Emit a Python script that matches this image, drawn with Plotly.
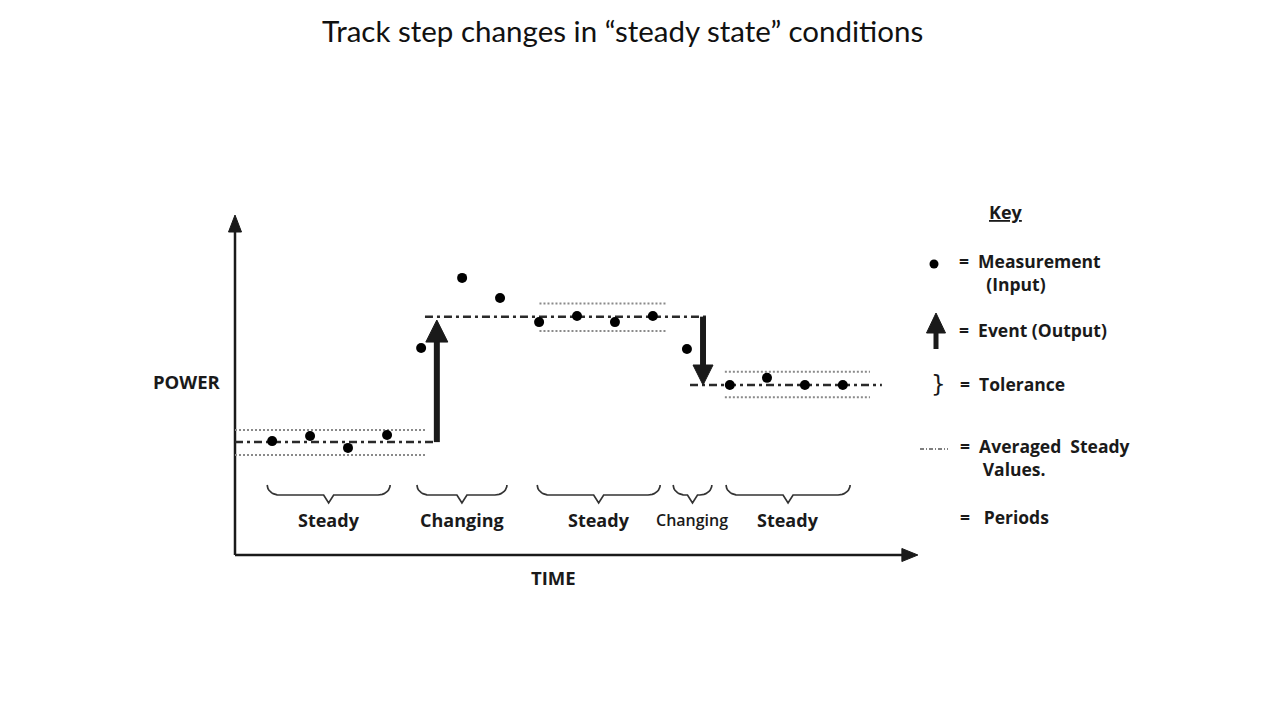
import numpy as np
import plotly.graph_objects as go

# ---------------- data ----------------
title_text = "Track step changes in “steady state” conditions"

meas_time = [0.97, 1.96, 2.95, 3.97, 4.86, 5.93, 6.92, 7.94, 8.93, 9.92, 10.91, 11.80, 12.92, 13.89, 14.88, 15.87]
meas_power = [3.35, 3.50, 3.15, 3.53, 6.09, 8.15, 7.56, 6.85, 7.03, 6.85, 7.03, 6.06, 5.00, 5.21, 5.00, 5.00]

avg_level = [3.32, 7.01, 5.00]
avg_start = [0.00, 4.96, 11.88]
avg_end = [5.27, 12.32, 16.89]

tol_upper = [3.68, 7.40, 5.39]
tol_lower = [2.94, 6.59, 4.64]
tol_start = [0.00, 7.95, 12.79]
tol_end = [5.01, 11.28, 16.58]

event_time = [5.27, 12.22]
event_from = [3.32, 7.01]
event_to = [6.91, 5.00]

period_start = [0.84, 4.75, 7.89, 11.44, 12.82]
period_end = [4.05, 7.10, 11.10, 12.45, 16.06]
period_label = ["Steady", "Changing", "Steady", "Changing", "Steady"]

time_max = 17.83
power_max = 10.0

NB = "&nbsp;"
key_labels = ["=  Measurement<br>" + NB * 6 + "(Input)",
              "=  Event (Output)",
              "=  Tolerance",
              "=  Averaged  Steady<br>" + NB * 4 + " Values.",
              "=   Periods"]

# ---------------- geometry helpers (layout only) ----------------
PX_T = 38.3   # pixels per time unit
PX_P = 34.0   # pixels per power unit
X0_PX, Y0_PX = 235.0, 555.0
PAGE_OFF = 8.0  # page body margin


def tx(px):
    return (px - X0_PX) / PX_T


def py(pyy):
    return (Y0_PX - pyy) / PX_P


BOLD = "Open Sans"
INK = "#1a1a1a"

fig = go.Figure()


def add_line(xs, ys, color=INK, width=2.5, dash="solid"):
    fig.add_trace(go.Scatter(x=xs, y=ys, mode="lines", hoverinfo="skip",
                             line=dict(color=color, width=width, dash=dash), showlegend=False))


def add_head(xt, yt, direction, w_px, h_px, color=INK):
    """filled triangular arrow head with tip at (xt, yt)"""
    hw = w_px / 2 / PX_T
    if direction in ("up", "down"):
        hh = h_px / PX_P * (1 if direction == "up" else -1)
        xs = [xt, xt - hw, xt + hw, xt]
        ys = [yt, yt - hh, yt - hh, yt]
    else:  # right
        hl = h_px / PX_T
        hv = w_px / 2 / PX_P
        xs = [xt, xt - hl, xt - hl, xt]
        ys = [yt, yt + hv, yt - hv, yt]
    fig.add_trace(go.Scatter(x=xs, y=ys, mode="lines", fill="toself", fillcolor=color,
                             line=dict(color=color, width=1), hoverinfo="skip", showlegend=False))


# axes with arrows
add_line([0, 0], [0, power_max - 0.3], width=2.5)
add_head(0, power_max, "up", 13, 17)
add_line([0, time_max - 0.3], [0, 0], width=2.5)
add_head(time_max, 0, "right", 13, 16)

# tolerance bands (dotted)
for s, e, u, l in zip(tol_start, tol_end, tol_upper, tol_lower):
    add_line([s, e], [u, u], color="#8a8a8a", width=2, dash="2px,2px")
    add_line([s, e], [l, l], color="#8a8a8a", width=2, dash="2px,2px")

# averaged steady values (dash-dot)
for s, e, v in zip(avg_start, avg_end, avg_level):
    add_line([s, e], [v, v], color="#2a2a2a", width=2.5, dash="8px,4px,3px,4px")

# events
for t, a, b in zip(event_time, event_from, event_to):
    head_h = 21 / PX_P
    if b > a:
        add_line([t, t], [a, b - head_h * 0.8], width=6)
        add_head(t, b, "up", 22, 22)
    else:
        add_line([t, t], [a, b + head_h * 0.8], width=6)
        add_head(t, b, "down", 20, 20)

# measurements
fig.add_trace(go.Scatter(x=meas_time, y=meas_power, mode="markers", hoverinfo="skip",
                         marker=dict(color="black", size=10), showlegend=False))


# period braces
def brace(x0, x1, top=py(485), flat=py(495), tip=py(503)):
    dx = 12 / PX_T
    tw = 5 / PX_T
    mid = (x0 + x1) / 2
    a1 = np.linspace(np.pi, 1.5 * np.pi, 10)
    a2 = np.linspace(1.5 * np.pi, 2 * np.pi, 10)
    xs = list(x0 + dx + dx * np.cos(a1)) + [mid - tw, mid, mid + tw] + list(x1 - dx + dx * np.cos(a2))
    ys = list(top + (top - flat) * np.sin(a1)) + [flat, tip, flat] + list(top + (top - flat) * np.sin(a2))
    return xs, ys


annotations = []
for s, e, lab in zip(period_start, period_end, period_label):
    bx, by = brace(s, e)
    add_line(bx, by, color="#333333", width=1.7)
    small = (e - s) < 1.5
    annotations.append(dict(x=(s + e) / 2, y=py(520), text=lab, showarrow=False,
                            font=dict(family=BOLD, size=16 if small else 18, color=INK,
                                      weight=600 if small else "bold"),
                            xanchor="center"))

# axis labels
annotations.append(dict(x=tx(187), y=py(381), text="POWER", showarrow=False,
                        font=dict(family=BOLD, size=18.5, color=INK, weight="bold")))
annotations.append(dict(x=tx(553), y=py(577), text="TIME", showarrow=False,
                        font=dict(family=BOLD, size=18.5, color=INK, weight="bold")))

# ---------------- key ----------------
annotations.append(dict(x=tx(1006), y=py(212), text="<u>Key</u>", showarrow=False,
                        font=dict(family=BOLD, size=18, color=INK, weight="bold")))
fig.add_trace(go.Scatter(x=[tx(934)], y=[py(264)], mode="markers", hoverinfo="skip",
                         marker=dict(color="black", size=9), showlegend=False))
add_line([tx(936), tx(936)], [py(349), py(330)], width=5)
add_head(tx(936), py(313), "up", 19, 20)
annotations.append(dict(x=tx(938), y=py(384), text="}", showarrow=False,
                        font=dict(family="DejaVu Sans", size=23, color=INK)))
add_line([tx(920), tx(948)], [py(449), py(449)], color="#555555", width=1.3, dash="4px,2px,1px,2px")

key_pos = [(957, 272.5), (957, 330), (958, 384), (958, 457.5), (958, 517)]
for lab, (kx, ky) in zip(key_labels, key_pos):
    annotations.append(dict(x=tx(kx), y=py(ky), text=lab, showarrow=False, xanchor="left", align="left",
                            font=dict(family=BOLD, size=17.5, color=INK, weight="bold")))

# title
annotations.append(dict(x=tx(622), y=py(30), text=title_text, showarrow=False,
                        font=dict(family="Lato", size=29.5, color="#111111")))

for a in annotations:
    a.setdefault("xref", "x")
    a.setdefault("yref", "y")
    a.setdefault("yanchor", "middle")

fig.update_layout(
    width=1280, height=720, autosize=False,
    margin=dict(l=0, r=0, t=0, b=0),
    paper_bgcolor="white", plot_bgcolor="white",
    xaxis=dict(range=[tx(PAGE_OFF), tx(1280 + PAGE_OFF)], visible=False, fixedrange=True),
    yaxis=dict(range=[py(720 + PAGE_OFF), py(PAGE_OFF)], visible=False, fixedrange=True),
    annotations=annotations,
    showlegend=False,
)

fig.write_html("out.html")
